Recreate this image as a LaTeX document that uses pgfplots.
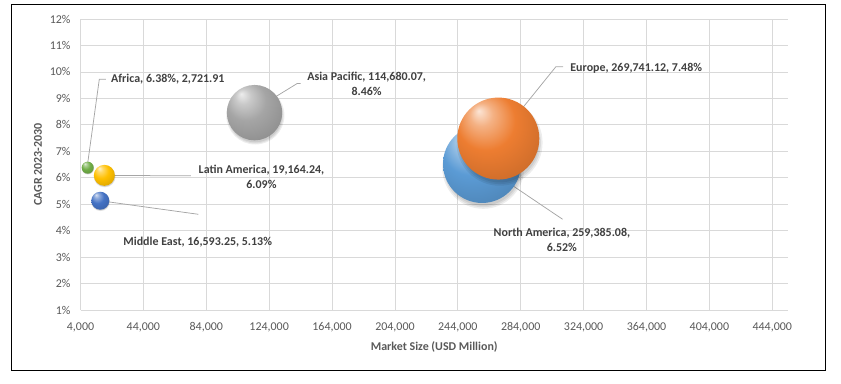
\documentclass[border=0pt]{standalone}
\usepackage{pgfplots}
\pgfplotsset{compat=1.18}
\usepackage{fontspec}
\setmainfont{Carlito}
\definecolor{tickgray}{HTML}{595959}
\definecolor{labgray}{HTML}{404040}
\definecolor{gridgray}{HTML}{D9D9D9}
\definecolor{leader}{HTML}{A6A6A6}
\definecolor{cgreen}{HTML}{70AD47}
\definecolor{cgold}{HTML}{FFC000}
\definecolor{cblue}{HTML}{4472C4}
\definecolor{cgray}{HTML}{A5A5A5}
\definecolor{corange}{HTML}{ED7D31}
\definecolor{cltblue}{HTML}{5B9BD5}
\colorlet{mball}{cgray}
\pgfdeclareradialshading[mball]{myball}{\pgfqpoint{-12bp}{17bp}}{%
  color(0bp)=(mball!20!white);
  color(7bp)=(mball!60!white);
  color(18bp)=(mball);
  color(32bp)=(mball!88!black);
  color(43bp)=(mball!65!black);
  color(50bp)=(mball!45!black)}
\pgfdeclareplotmark{myball}{%
  \pgfscope
  \pgfsetfillcolor{black}\pgfsetfillopacity{0.07}%
  \pgfpathcircle{\pgfqpoint{0.03\pgfplotmarksize}{-0.10\pgfplotmarksize}}{1.05\pgfplotmarksize}\pgfusepath{fill}%
  \pgfpathcircle{\pgfqpoint{0.03\pgfplotmarksize}{-0.10\pgfplotmarksize}}{1.01\pgfplotmarksize}\pgfusepath{fill}%
  \pgfpathcircle{\pgfqpoint{0.03\pgfplotmarksize}{-0.10\pgfplotmarksize}}{0.97\pgfplotmarksize}\pgfusepath{fill}%
  \endpgfscope
  \pgfpathcircle{\pgfpointorigin}{\pgfplotmarksize}%
  \pgfshadepath{myball}{0}%
  \pgfusepath{}}
\tikzset{dl/.style={font=\bfseries\fontsize{12}{15}\selectfont, text=labgray, inner sep=0pt}}
\begin{document}
\begin{tikzpicture}
\path[use as bounding box] (0,0) rectangle (841bp,384bp);
\draw[black, line width=1bp] (11.5bp,13bp) rectangle (825.5bp,379.5bp);
\begin{axis}[
  at={(80.5bp,74bp)}, anchor=south west,
  scale only axis, width=707.5bp, height=291bp,
  xmin=4000, xmax=454000, ymin=1, ymax=12,
  scaled x ticks=false,
  xtick={4000,44000,84000,124000,164000,204000,244000,284000,324000,364000,404000,444000},
  xticklabels={{4,000},{44,000},{84,000},{124,000},{164,000},{204,000},{244,000},{284,000},{324,000},{364,000},{404,000},{444,000}},
  ytick={1,2,3,4,5,6,7,8,9,10,11,12},
  yticklabels={1\%,2\%,3\%,4\%,5\%,6\%,7\%,8\%,9\%,10\%,11\%,12\%},
  tick label style={font=\fontsize{12}{14}\selectfont, text=tickgray},
  xticklabel style={yshift=-9bp},
  yticklabel style={xshift=-6.5bp},
  tick style={draw=none},
  major tick length=0pt,
  axis line style={draw=none},
  grid=major, grid style={gridgray, line width=0.75bp},
  xlabel={Market Size (USD Million)}, ylabel={CAGR 2023-2030},
  label style={font=\bfseries\fontsize{12}{14}\selectfont, text=tickgray},
  xlabel style={at={(axis description cs:0.5,-0.127)}, anchor=center},
  ylabel style={at={(axis description cs:-0.060,0.5)}, anchor=center},
  clip=false,
]
% bubbles (x = market size, y = CAGR %)
\addplot[only marks, mark=myball, mark size=6bp, mark options={/utils/exec={\colorlet{mball}{cgreen}}}] coordinates {(8580,6.38)};
\addplot[only marks, mark=myball, mark size=10.5bp, mark options={/utils/exec={\colorlet{mball}{cgold}}}] coordinates {(19164.24,6.09)};
\addplot[only marks, mark=myball, mark size=9bp, mark options={/utils/exec={\colorlet{mball}{cblue}}}] coordinates {(16593.25,5.13)};
\addplot[only marks, mark=myball, mark size=27.7bp, mark options={/utils/exec={\colorlet{mball}{cgray}}}] coordinates {(114680.07,8.46)};
\addplot[only marks, mark=myball, mark size=39bp, mark options={/utils/exec={\colorlet{mball}{cltblue}}}] coordinates {(259385.08,6.52)};
\addplot[only marks, mark=myball, mark size=41bp, mark options={/utils/exec={\colorlet{mball}{corange}}}] coordinates {(269741.12,7.48)};
% leader lines
\draw[leader, line width=0.75bp] (axis cs:8580,6.55) -- (axis cs:15956,9.722) -- (axis cs:20216,9.722);
\draw[leader, line width=0.75bp] (axis cs:121330,8.815) -- (axis cs:141870,9.563) -- (axis cs:144032,9.563);
\draw[leader, line width=0.75bp] (axis cs:19164,6.09) -- (axis cs:74270,6.07);
\draw[leader, line width=0.75bp] (axis cs:16593,5.13) -- (axis cs:78913,4.618);
\draw[leader, line width=0.75bp] (axis cs:270770,7.578) -- (axis cs:306385,10.198) -- (axis cs:311027,10.198);
\draw[leader, line width=0.75bp] (axis cs:258690,6.509) -- (axis cs:310646,4.429);
% data labels
\node[dl, anchor=west] at (axis cs:23396,9.722) {Africa, 6.38\%, 2,721.91};
\node[dl, align=center] at (axis cs:186004,9.537) {Asia Pacific, 114,680.07,\\8.46\%};
\node[dl, align=center] at (axis cs:119103,6.028) {Latin America, 19,164.24,\\6.09\%};
\node[dl] at (axis cs:78531,3.560) {Middle East, 16,593.25, 5.13\%};
\node[dl] at (axis cs:357450,10.138) {Europe, 269,741.12, 7.48\%};
\node[dl, align=center] at (axis cs:310200,3.665) {North America, 259,385.08,\\6.52\%};
\end{axis}
\end{tikzpicture}
\end{document}
